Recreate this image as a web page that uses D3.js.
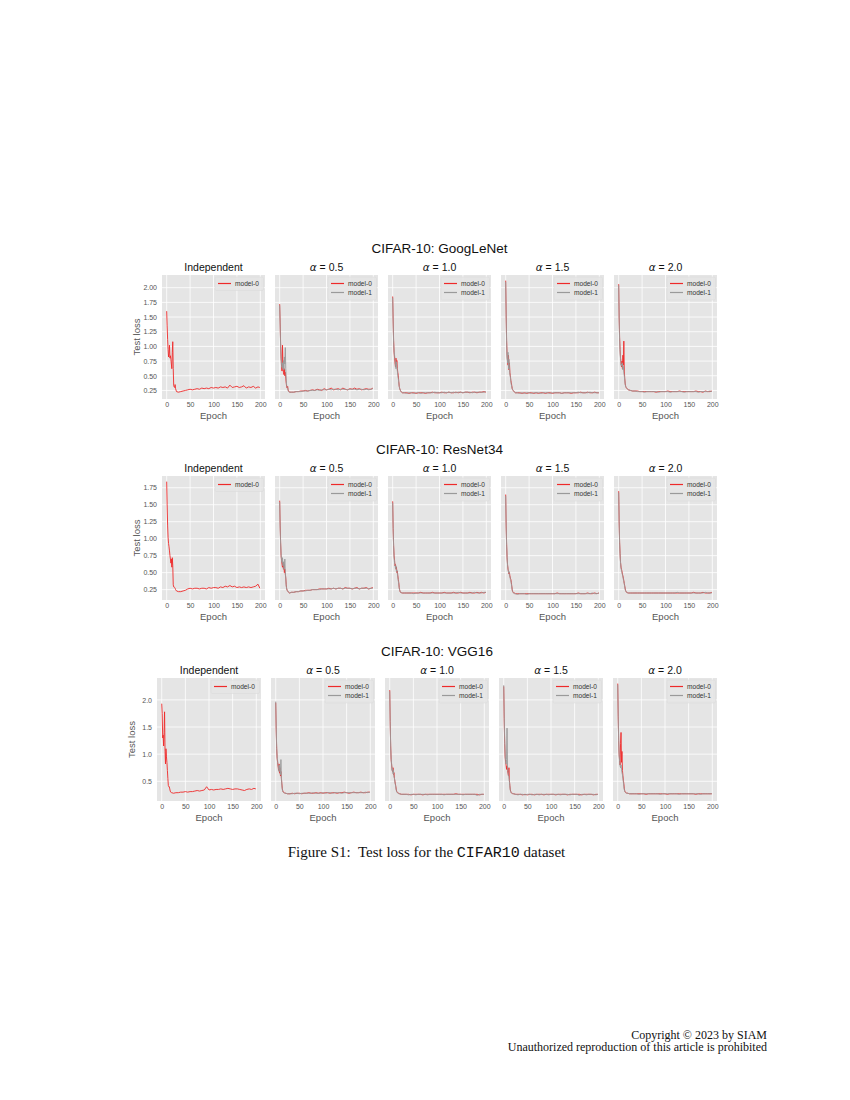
<!DOCTYPE html>
<html>
<head>
<meta charset="utf-8">
<script src="https://cdn.jsdelivr.net/npm/d3@7"></script>
<style>
  body { margin: 0; background: #fff; }
  svg { display: block; }
  text { white-space: pre; }
</style>
</head>
<body>
<svg id="fig" width="850" height="1100"></svg>
<script>
// ---------------------------------------------------------------------------
// Data. Early epochs every epoch, then every 5 epochs.
// ---------------------------------------------------------------------------
const EPOCHS = [0,1,2,3,4,5,6,7,8,9,10,11,12,13,14,15,16,17,18,19,21,
  25,30,35,40,45,50,55,60,65,70,75,80,85,90,95,100,105,110,115,120,125,130,
  135,140,145,150,155,160,165,170,175,180,185,190,195,199];

const X_TICKS = [0, 50, 100, 150, 200];
const ROW_TITLES = ["CIFAR-10: GoogLeNet", "CIFAR-10: ResNet34", "CIFAR-10: VGG16"];
const ALPHAS = ["0.5", "1.0", "1.5", "2.0"];
const Y_TICKS = [
  [0.25, 0.5, 0.75, 1.0, 1.25, 1.5, 1.75, 2.0],
  [0.25, 0.5, 0.75, 1.0, 1.25, 1.5, 1.75],
  [0.5, 1.0, 1.5, 2.0]
];
const Y_FORMATS = [".2f", ".2f", ".1f"];

// GoogLeNet
const GOOG_IND = [1.60,1.35,1.12,0.95,0.82,0.88,1.02,0.80,0.84,0.78,0.70,0.62,0.90,1.08,0.62,0.33,0.31,0.30,0.35,0.28,0.23,
  .22,.23,.24,.25,.26,.27,.26,.27,.28,.27,.29,.28,.29,.28,.30,.29,.30,.29,.31,.30,.31,.29,.34,.30,.31,.32,.30,.31,.33,.29,.31,.30,.32,.29,.31,.30];
const GOOG_A05_M0 = [1.72,1.40,1.05,0.80,0.66,0.58,1.02,0.70,0.56,0.52,0.62,0.50,0.56,0.46,0.37,0.31,0.29,0.32,0.26,0.24,0.22,
  .22,.22,.23,.23,.24,.24,.25,.24,.25,.26,.25,.27,.26,.25,.28,.26,.27,.29,.26,.27,.28,.26,.29,.27,.26,.28,.27,.29,.27,.28,.26,.27,.28,.27,.27,.29];
const GOOG_A05_M1 = [1.70,1.35,0.98,0.82,0.70,0.64,0.72,0.62,0.76,0.60,0.82,0.70,0.98,0.62,0.42,0.33,0.30,0.29,0.25,0.23,0.22,
  .22,.22,.23,.23,.23,.24,.24,.24,.25,.25,.25,.26,.25,.26,.26,.26,.27,.26,.27,.27,.26,.27,.27,.27,.26,.27,.27,.27,.26,.27,.27,.26,.27,.26,.27,.28];
const GOOG_A10_M0 = [1.85,1.45,1.10,0.90,0.80,0.72,0.65,0.80,0.70,0.76,0.62,0.55,0.50,0.40,0.32,0.28,0.26,0.24,0.23,0.22,0.21,
  .21,.21,.20,.21,.21,.20,.21,.21,.21,.20,.21,.21,.22,.21,.21,.21,.22,.21,.21,.22,.21,.21,.22,.21,.22,.21,.22,.22,.21,.22,.22,.21,.22,.22,.23,.22];
const GOOG_A10_M1 = [1.83,1.40,1.05,0.92,0.85,0.78,0.70,0.62,0.74,0.65,0.58,0.50,0.45,0.38,0.32,0.28,0.26,0.24,0.23,0.22,0.21,
  .21,.20,.21,.21,.20,.21,.21,.20,.21,.21,.21,.21,.21,.22,.21,.21,.21,.22,.21,.22,.21,.22,.21,.22,.22,.21,.22,.22,.22,.21,.22,.22,.22,.22,.22,.23];
const GOOG_A15_M0 = [2.12,1.55,1.10,0.85,0.75,0.68,0.85,0.60,0.72,0.55,0.50,0.42,0.38,0.33,0.28,0.26,0.25,0.24,0.23,0.22,0.21,
  .21,.21,.20,.21,.20,.21,.21,.20,.21,.20,.21,.21,.20,.21,.21,.20,.21,.21,.21,.20,.21,.21,.21,.20,.21,.21,.21,.22,.21,.21,.22,.21,.21,.22,.21,.21];
const GOOG_A15_M1 = [2.10,1.50,1.05,0.80,0.72,0.90,0.62,0.78,0.65,0.52,0.48,0.40,0.35,0.31,0.28,0.26,0.25,0.24,0.23,0.22,0.21,
  .21,.20,.21,.20,.21,.21,.20,.21,.21,.21,.20,.21,.21,.21,.20,.21,.21,.21,.21,.20,.21,.21,.21,.21,.21,.21,.22,.21,.21,.21,.21,.22,.21,.21,.21,.21];
const GOOG_A20_M0 = [2.06,1.50,1.15,0.95,0.80,0.72,0.65,0.75,0.62,0.85,0.68,1.09,0.58,0.45,0.36,0.32,0.30,0.29,0.28,0.27,0.26,
  .25,.24,.24,.24,.23,.23,.23,.23,.23,.23,.23,.22,.23,.23,.23,.23,.24,.23,.23,.23,.23,.24,.23,.23,.23,.23,.23,.23,.24,.23,.23,.22,.24,.23,.23,.24];
const GOOG_A20_M1 = [2.04,1.45,1.10,0.90,0.78,0.68,0.70,0.66,0.72,0.60,0.66,0.55,0.50,0.42,0.35,0.31,0.30,0.29,0.28,0.27,0.26,
  .25,.24,.24,.23,.23,.23,.22,.23,.23,.23,.23,.23,.22,.23,.23,.23,.23,.22,.23,.23,.23,.23,.23,.22,.23,.23,.23,.23,.23,.22,.23,.23,.23,.23,.24,.23];

// ResNet34
const RES_IND = [1.84,1.50,1.20,1.02,0.93,0.88,0.82,0.75,0.70,0.64,0.70,0.58,0.72,0.60,0.32,0.29,0.29,0.28,0.27,0.25,0.23,
  .22,.22,.23,.24,.26,.27,.26,.27,.27,.26,.27,.27,.26,.28,.27,.28,.28,.27,.29,.28,.30,.29,.31,.29,.30,.28,.29,.28,.29,.28,.29,.28,.29,.30,.33,.27];
const RES_A05_M0 = [1.56,1.20,0.95,0.75,0.68,0.62,0.58,0.65,0.55,0.62,0.50,0.55,0.48,0.42,0.32,0.26,0.24,0.23,0.22,0.21,0.20,
  .21,.21,.22,.22,.23,.23,.24,.24,.24,.25,.25,.25,.26,.26,.26,.26,.27,.26,.27,.26,.27,.27,.26,.28,.27,.27,.26,.27,.28,.26,.27,.27,.28,.26,.27,.28];
const RES_A05_M1 = [1.54,1.15,0.92,0.78,0.70,0.65,0.72,0.60,0.66,0.55,0.58,0.70,0.52,0.40,0.30,0.26,0.24,0.23,0.22,0.21,0.20,
  .21,.21,.22,.22,.23,.23,.23,.24,.24,.25,.25,.25,.25,.26,.26,.26,.26,.26,.27,.26,.27,.27,.26,.27,.27,.27,.26,.27,.27,.26,.27,.27,.27,.26,.27,.27];
const RES_A10_M0 = [1.55,1.15,0.90,0.75,0.68,0.60,0.62,0.55,0.58,0.50,0.52,0.45,0.40,0.35,0.28,0.24,0.22,0.21,0.21,0.20,0.20,
  .20,.20,.20,.20,.20,.20,.20,.21,.20,.20,.20,.20,.21,.20,.20,.20,.20,.21,.20,.20,.20,.21,.20,.20,.21,.20,.20,.20,.21,.20,.20,.21,.20,.21,.20,.21];
const RES_A10_M1 = [1.53,1.12,0.88,0.72,0.64,0.62,0.56,0.60,0.52,0.54,0.48,0.44,0.38,0.33,0.27,0.24,0.22,0.21,0.21,0.20,0.20,
  .20,.20,.20,.20,.19,.20,.20,.20,.20,.20,.20,.20,.20,.20,.20,.20,.20,.20,.20,.20,.20,.20,.20,.21,.20,.20,.20,.20,.20,.20,.21,.20,.20,.20,.21,.21];
const RES_A15_M0 = [1.65,1.20,0.92,0.72,0.62,0.55,0.52,0.48,0.50,0.45,0.42,0.40,0.36,0.30,0.25,0.22,0.21,0.20,0.20,0.20,0.19,
  .19,.19,.19,.19,.19,.19,.19,.19,.19,.19,.19,.19,.19,.19,.19,.19,.19,.20,.19,.19,.19,.19,.19,.19,.19,.19,.20,.19,.19,.19,.20,.19,.19,.20,.19,.20];
const RES_A15_M1 = [1.63,1.18,0.90,0.74,0.60,0.56,0.50,0.52,0.46,0.44,0.40,0.38,0.34,0.29,0.24,0.22,0.21,0.20,0.19,0.19,0.19,
  .18,.19,.19,.19,.18,.19,.19,.19,.19,.19,.19,.19,.19,.19,.19,.19,.19,.19,.19,.19,.19,.19,.19,.19,.19,.19,.19,.19,.19,.19,.19,.19,.20,.19,.19,.20];
const RES_A20_M0 = [1.70,1.25,0.95,0.78,0.65,0.58,0.55,0.52,0.48,0.45,0.42,0.38,0.34,0.30,0.26,0.23,0.22,0.21,0.21,0.20,0.20,
  .20,.20,.20,.20,.20,.20,.20,.20,.20,.20,.20,.20,.20,.20,.20,.20,.20,.20,.20,.20,.20,.20,.20,.20,.20,.20,.20,.21,.20,.20,.20,.21,.20,.20,.20,.21];
const RES_A20_M1 = [1.68,1.22,0.93,0.76,0.64,0.57,0.53,0.50,0.47,0.44,0.40,0.37,0.33,0.29,0.25,0.23,0.22,0.21,0.21,0.20,0.20,
  .20,.20,.20,.20,.20,.20,.20,.20,.20,.20,.20,.20,.20,.20,.20,.20,.20,.20,.20,.20,.21,.20,.20,.20,.20,.20,.20,.20,.20,.20,.20,.20,.21,.20,.20,.20];

// VGG16
const VGG_IND = [1.93,1.75,1.30,1.35,1.15,1.40,1.78,1.05,0.82,1.10,0.95,0.85,0.70,0.55,0.42,0.40,0.40,0.36,0.32,0.30,0.29,
  .28,.29,.29,.30,.30,.31,.30,.31,.31,.32,.33,.32,.33,.34,.40,.34,.35,.34,.35,.35,.36,.35,.36,.37,.36,.35,.36,.36,.35,.34,.33,.35,.36,.35,.37,.36];
const VGG_A05_M0 = [1.95,1.45,1.10,0.92,0.85,0.78,0.70,0.82,0.65,0.75,0.60,0.68,0.55,0.45,0.36,0.32,0.30,0.30,0.29,0.28,0.28,
  .27,.27,.28,.27,.28,.28,.27,.28,.28,.29,.28,.28,.29,.28,.29,.28,.29,.29,.28,.29,.29,.28,.29,.29,.30,.29,.28,.29,.30,.29,.29,.30,.29,.29,.30,.30];
const VGG_A05_M1 = [1.97,1.50,1.12,0.95,0.88,0.80,0.75,0.68,0.80,0.70,0.62,0.90,0.58,0.42,0.34,0.31,0.30,0.29,0.29,0.28,0.28,
  .27,.27,.27,.28,.28,.27,.28,.28,.28,.28,.28,.29,.28,.28,.28,.29,.28,.29,.29,.28,.29,.29,.29,.28,.29,.29,.29,.29,.29,.29,.29,.29,.29,.30,.29,.30];
const VGG_A10_M0 = [2.18,1.60,1.15,0.90,0.80,0.72,0.68,0.75,0.62,0.66,0.55,0.50,0.45,0.40,0.34,0.31,0.30,0.29,0.28,0.28,0.27,
  .26,.26,.26,.26,.25,.26,.26,.26,.26,.25,.26,.26,.26,.26,.26,.26,.26,.26,.26,.26,.26,.26,.26,.27,.26,.26,.26,.26,.26,.26,.26,.26,.26,.25,.26,.26];
const VGG_A10_M1 = [2.16,1.58,1.12,0.92,0.82,0.70,0.74,0.64,0.70,0.58,0.56,0.48,0.44,0.38,0.33,0.30,0.29,0.28,0.28,0.27,0.27,
  .26,.26,.26,.25,.26,.26,.25,.26,.26,.26,.26,.25,.26,.26,.26,.26,.26,.26,.25,.26,.26,.26,.26,.26,.26,.26,.25,.26,.26,.26,.26,.26,.24,.26,.26,.26];
const VGG_A15_M0 = [2.25,1.65,1.20,0.95,0.85,0.80,0.72,0.78,0.70,0.65,0.60,0.75,0.52,0.42,0.34,0.31,0.29,0.28,0.28,0.27,0.27,
  .26,.26,.26,.25,.26,.25,.26,.26,.25,.26,.26,.26,.25,.26,.26,.26,.26,.25,.26,.26,.26,.26,.25,.26,.26,.26,.26,.26,.25,.26,.26,.26,.26,.25,.26,.26];
const VGG_A15_M1 = [2.27,1.70,1.25,1.00,0.88,0.82,0.90,1.48,0.78,0.68,0.62,0.58,0.50,0.40,0.33,0.30,0.29,0.28,0.28,0.27,0.27,
  .26,.25,.26,.26,.25,.26,.26,.25,.26,.26,.25,.26,.26,.26,.25,.26,.26,.26,.26,.25,.26,.26,.26,.25,.26,.26,.26,.24,.26,.26,.25,.26,.26,.26,.25,.26];
const VGG_A20_M0 = [2.30,1.70,1.25,1.00,0.88,0.80,1.20,1.40,0.85,1.05,0.70,0.60,0.52,0.45,0.36,0.32,0.30,0.29,0.29,0.28,0.28,
  .27,.27,.27,.27,.27,.27,.27,.26,.27,.27,.27,.27,.27,.27,.27,.27,.26,.27,.27,.27,.27,.27,.27,.27,.27,.27,.27,.27,.26,.27,.27,.27,.27,.27,.27,.27];
const VGG_A20_M1 = [2.28,1.68,1.22,0.98,0.86,0.78,0.75,0.80,0.72,0.66,0.62,0.55,0.48,0.40,0.34,0.31,0.30,0.29,0.28,0.28,0.28,
  .27,.27,.27,.27,.26,.27,.27,.27,.27,.27,.27,.27,.27,.26,.27,.27,.27,.27,.27,.27,.27,.26,.27,.27,.27,.27,.27,.27,.27,.27,.26,.27,.27,.27,.27,.27];

// Each row: one list of series per panel (Independent, then the four alphas).
const ROW_SERIES = [
  [[GOOG_IND], [GOOG_A05_M0, GOOG_A05_M1], [GOOG_A10_M0, GOOG_A10_M1], [GOOG_A15_M0, GOOG_A15_M1], [GOOG_A20_M0, GOOG_A20_M1]],
  [[RES_IND], [RES_A05_M0, RES_A05_M1], [RES_A10_M0, RES_A10_M1], [RES_A15_M0, RES_A15_M1], [RES_A20_M0, RES_A20_M1]],
  [[VGG_IND], [VGG_A05_M0, VGG_A05_M1], [VGG_A10_M0, VGG_A10_M1], [VGG_A15_M0, VGG_A15_M1], [VGG_A20_M0, VGG_A20_M1]]
];
const SERIES_NAMES = ["model-0", "model-1"];

// ---------------------------------------------------------------------------
// Layout / style
// ---------------------------------------------------------------------------
const FONT = "'Liberation Sans', Arial, Helvetica, sans-serif";
const SERIF = "'Liberation Serif', 'DejaVu Serif', serif";
const BG = "#E5E5E5";
const COLORS = ["#ee2a2a", "#9a9a9a"];
const LAYOUT = [
  { top: 275, h: 124, left: 162, w: 103, step: 113 },
  { top: 476, h: 124, left: 162, w: 103, step: 113 },
  { top: 678, h: 123, left: 157, w: 104, step: 114 }
];

const svg = d3.select("#fig");

ROW_SERIES.forEach((panels, r) => {
  const L = LAYOUT[r];
  // shared y-limits per row, padded 5% like matplotlib
  const [lo, hi] = d3.extent(panels.flat(2));
  const pad = (hi - lo) * 0.05;
  const y = d3.scaleLinear().domain([lo - pad, hi + pad]).range([L.top + L.h, L.top]);
  const rowRight = L.left + L.step * 4 + L.w;

  svg.append("text")
    .attr("x", (L.left + rowRight) / 2).attr("y", L.top - 22)
    .attr("text-anchor", "middle")
    .attr("font-family", FONT).attr("font-size", 13.5).attr("fill", "#111")
    .text(ROW_TITLES[r]);

  panels.forEach((series, p) => {
    const x0 = L.left + p * L.step;
    const x = d3.scaleLinear().domain([-10, 210]).range([x0, x0 + L.w]);
    const g = svg.append("g");

    g.append("rect")
      .attr("x", x0).attr("y", L.top).attr("width", L.w).attr("height", L.h)
      .attr("fill", BG);

    // white grid
    g.append("g").selectAll("line").data(X_TICKS).join("line")
      .attr("x1", d => x(d)).attr("x2", d => x(d))
      .attr("y1", L.top).attr("y2", L.top + L.h)
      .attr("stroke", "#fff").attr("stroke-width", 0.8);
    g.append("g").selectAll("line").data(Y_TICKS[r]).join("line")
      .attr("x1", x0).attr("x2", x0 + L.w)
      .attr("y1", d => y(d)).attr("y2", d => y(d))
      .attr("stroke", "#fff").attr("stroke-width", 0.8);

    // x axis
    const xa = g.append("g")
      .attr("transform", `translate(0,${L.top + L.h})`)
      .call(d3.axisBottom(x).tickValues(X_TICKS).tickSize(0).tickPadding(3.5));
    xa.select(".domain").remove();
    xa.selectAll("text").attr("font-family", FONT).attr("font-size", 7).attr("fill", "#555");

    g.append("text")
      .attr("x", x0 + L.w / 2).attr("y", L.top + L.h + 19.5)
      .attr("text-anchor", "middle")
      .attr("font-family", FONT).attr("font-size", 9.5).attr("fill", "#555")
      .text("Epoch");

    if (p === 0) {
      const ya = g.append("g")
        .attr("transform", `translate(${x0},0)`)
        .call(d3.axisLeft(y).tickValues(Y_TICKS[r]).tickFormat(d3.format(Y_FORMATS[r])).tickSize(0).tickPadding(5));
      ya.select(".domain").remove();
      ya.selectAll("text").attr("font-family", FONT).attr("font-size", 7).attr("fill", "#555");

      g.append("text")
        .attr("transform", `translate(${x0 - 22},${L.top + L.h / 2}) rotate(-90)`)
        .attr("text-anchor", "middle")
        .attr("font-family", FONT).attr("font-size", 9.5).attr("fill", "#555")
        .text("Test loss");
    }

    // panel title
    const t = g.append("text")
      .attr("x", x0 + L.w / 2).attr("y", L.top - 4)
      .attr("text-anchor", "middle")
      .attr("font-family", FONT).attr("font-size", 10.5).attr("fill", "#111");
    if (p === 0) {
      t.text("Independent");
    } else {
      t.append("tspan").attr("font-family", "'DejaVu Sans', sans-serif").attr("font-style", "italic").text("α");
      t.append("tspan").text(" = " + ALPHAS[p - 1]);
    }

    // lines: model-0 first, model-1 drawn on top
    const line = d3.line().x((d, i) => x(EPOCHS[i])).y(d => y(d));
    series.forEach((vals, k) => {
      g.append("path")
        .attr("d", line(vals))
        .attr("fill", "none")
        .attr("stroke", COLORS[k])
        .attr("stroke-width", 0.9)
        .attr("stroke-linejoin", "round");
    });

    // legend (upper right)
    const n = series.length;
    const lx = x0 + L.w - 50;
    g.append("rect")
      .attr("x", lx).attr("y", L.top + 2)
      .attr("width", 48.5).attr("height", 4 + n * 9.5)
      .attr("rx", 1.5)
      .attr("fill", BG).attr("fill-opacity", 0.85)
      .attr("stroke", "#d8d8d8").attr("stroke-width", 0.5);
    SERIES_NAMES.slice(0, n).forEach((name, k) => {
      const ly = Math.round(L.top + 8 + k * 9.3) + 0.5;
      g.append("line")
        .attr("x1", x0 + L.w - 47).attr("x2", x0 + L.w - 34)
        .attr("y1", ly).attr("y2", ly)
        .attr("stroke", COLORS[k]).attr("stroke-width", 1.2);
      g.append("text")
        .attr("x", x0 + L.w - 30).attr("y", ly + 2.3)
        .attr("font-family", FONT).attr("font-size", 6.6).attr("fill", "#333")
        .text(name);
    });
  });
});

// caption
const cap = svg.append("text")
  .attr("x", 426.5).attr("y", 857)
  .attr("text-anchor", "middle")
  .attr("font-family", SERIF)
  .attr("font-size", 15).attr("fill", "#111");
cap.append("tspan").text("Figure S1:  Test loss for the ");
cap.append("tspan").attr("font-family", "'Liberation Mono', 'DejaVu Sans Mono', monospace").text("CIFAR10");
cap.append("tspan").text(" dataset");

// footer
const foot = ["Copyright © 2023 by SIAM", "Unauthorized reproduction of this article is prohibited"];
svg.append("g").selectAll("text").data(foot).join("text")
  .attr("x", 767).attr("y", (d, i) => 1039 + i * 12)
  .attr("text-anchor", "end")
  .attr("font-family", SERIF)
  .attr("font-size", 12).attr("fill", "#111")
  .text(d => d);
</script>
</body>
</html>
